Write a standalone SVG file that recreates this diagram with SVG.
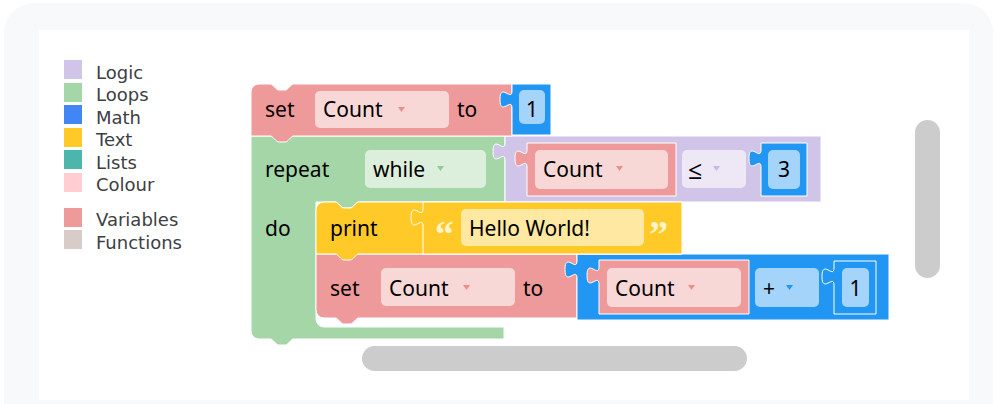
<svg xmlns="http://www.w3.org/2000/svg" width="996" height="404" viewBox="0 0 996 404">
<style>
.lg{font-family:"DejaVu Sans","Noto Sans",sans-serif;font-size:18px;fill:#3c4043}
.t{font-family:"Noto Sans","Open Sans",sans-serif;font-size:21px;fill:#000}
.q{font-family:"Liberation Serif","DejaVu Serif",serif;font-size:38px;font-weight:bold;fill:#fff3cc}
.blk{stroke:#fff;stroke-width:1}
.var{fill:#ef9a9a}
.loop{fill:#a5d6a7}
.logic{fill:#d1c4e9}
.math{fill:#2196f3}
.text{fill:#ffca28}
.fvar{fill:#f8d7d7}
.fmath{fill:#a5d4fa}
.arv{fill:#ec8e8e}
</style>
<rect x="0" y="0" width="996" height="404" fill="#fff"/>
<rect x="4" y="3" width="989" height="460" rx="30" fill="#f8f9fa"/>
<rect x="39" y="30" width="930" height="370" fill="#fff"/>

<g id="legend">
<rect x="64" y="60" width="18" height="19" fill="#d1c4e9"/><text class="lg" x="96" y="79">Logic</text>
<rect x="64" y="83" width="18" height="19" fill="#a5d6a7"/><text class="lg" x="96" y="101">Loops</text>
<rect x="64" y="105" width="18" height="19" fill="#4285f4"/><text class="lg" x="96" y="124">Math</text>
<rect x="64" y="128" width="18" height="19" fill="#ffca28"/><text class="lg" x="96" y="146">Text</text>
<rect x="64" y="150" width="18" height="19" fill="#4db6ac"/><text class="lg" x="96" y="169">Lists</text>
<rect x="64" y="173" width="18" height="19" fill="#ffcdd2"/><text class="lg" x="96" y="191">Colour</text>
<rect x="64" y="208" width="18" height="19" fill="#ef9a9a"/><text class="lg" x="96" y="226">Variables</text>
<rect x="64" y="230" width="18" height="19" fill="#d7ccc8"/><text class="lg" x="96" y="249">Functions</text>
</g>

<g id="connectors"></g>

<g id="repeat-while">
<path class="blk loop" d="M 251,136 H 505 V 202 H 359 c -1.5,0 -2.2,0.7 -3,1.5 l -3,3 c -0.8,0.8 -1.5,1.5 -3,1.5 h -6 c -1.5,0 -2.2,-0.7 -3,-1.5 l -3,-3 c -0.8,-0.8 -1.5,-1.5 -3,-1.5 H 316 V 319 a 8,8 0 0 0 8,8 H 504 V 339 H 294 c -1.5,0 -2.2,0.7 -3,1.5 l -3,3 c -0.8,0.8 -1.5,1.5 -3,1.5 h -6 c -1.5,0 -2.2,-0.7 -3,-1.5 l -3,-3 c -0.8,-0.8 -1.5,-1.5 -3,-1.5 H 259 a 8,8 0 0 1 -8,-8 Z"/>
<text class="t" x="265" y="177">repeat</text>
<rect x="365" y="150" width="121" height="38" rx="5" fill="#dcefdc"/>
<text class="t" x="373" y="177">while</text>
<polygon points="437,166 444,166 440.5,171" fill="#8fcc92"/>
<text class="t" x="265" y="236">do</text>
</g>

<g id="logic-compare">
<path class="blk logic" d="M 505,136 V 143 c 0,11.3 -12,-9 -12,8.5 s 12,-2.8 12,8.5 V 202 H 821 V 136 Z"/>
<rect x="682" y="150" width="64" height="38" rx="5" fill="#ede7f6"/>
<text class="t" x="688" y="179" style="font-size:25px">≤</text>
<polygon points="713,166 720,166 716.5,171" fill="#c7b8e8"/>
</g>

<g id="var-count-a">
<path class="blk var" d="M 527,143 V 150 c 0,11.3 -12,-9 -12,8.5 s 12,-2.8 12,8.5 V 196 H 676 V 143 Z"/>
<rect class="fvar" x="535" y="150" width="133" height="39" rx="5"/>
<text class="t" x="543" y="177">Count</text>
<polygon class="arv" points="616,166 623,166 619.5,171"/>
</g>

<g id="num-3">
<path class="blk math" d="M 761,143 V 150 c 0,11.3 -12,-9 -12,8.5 s 12,-2.8 12,8.5 V 196 H 807 V 143 Z"/>
<rect class="fmath" x="768" y="150" width="32" height="39" rx="5"/>
<text class="t" x="784" y="177" text-anchor="middle">3</text>
</g>

<g id="set-inner">
<path class="blk var" d="M 316,254 H 577 V 318 H 359 c -1.5,0 -2.2,0.7 -3,1.5 l -3,3 c -0.8,0.8 -1.5,1.5 -3,1.5 h -6 c -1.5,0 -2.2,-0.7 -3,-1.5 l -3,-3 c -0.8,-0.8 -1.5,-1.5 -3,-1.5 H 324 a 8,8 0 0 1 -8,-8 Z"/>
<text class="t" x="330" y="296">set</text>
<rect class="fvar" x="381" y="268" width="134" height="38" rx="5"/>
<text class="t" x="389" y="296">Count</text>
<polygon class="arv" points="463,285 470,285 466.5,290"/>
<text class="t" x="523" y="296">to</text>
</g>

<g id="math-add">
<path class="blk math" d="M 577,254 V 261 c 0,11.3 -12,-9 -12,8.5 s 12,-2.8 12,8.5 V 320 H 889 V 254 Z"/>
<rect class="fmath" x="755" y="268" width="64" height="39" rx="5"/>
<text class="t" x="763" y="296">+</text>
<polygon points="786,285 793,285 789.5,290" fill="#2196f3"/>
</g>

<g id="var-count-b">
<path class="blk var" d="M 599,260 V 267 c 0,11.3 -12,-9 -12,8.5 s 12,-2.8 12,8.5 V 314 H 749 V 260 Z"/>
<rect class="fvar" x="607" y="268" width="134" height="39" rx="5"/>
<text class="t" x="615" y="296">Count</text>
<polygon class="arv" points="688,285 695,285 691.5,290"/>
</g>

<g id="num-1b">
<path class="blk math" d="M 834,261 V 268 c 0,11.3 -12,-9 -12,8.5 s 12,-2.8 12,8.5 V 314 H 876 V 261 Z"/>
<rect class="fmath" x="842" y="268" width="27" height="39" rx="5"/>
<text class="t" x="855.5" y="296" text-anchor="middle">1</text>
</g>

<g id="print">
<path class="blk text" d="M 316,210 a 8,8 0 0 1 8,-8 H 335 c 1.5,0 2.2,0.7 3,1.5 l 3,3 c 0.8,0.8 1.5,1.5 3,1.5 h 6 c 1.5,0 2.2,-0.7 3,-1.5 l 3,-3 c 0.8,-0.8 1.5,-1.5 3,-1.5 H 682 V 254 H 359 c -1.5,0 -2.2,0.7 -3,1.5 l -3,3 c -0.8,0.8 -1.5,1.5 -3,1.5 h -6 c -1.5,0 -2.2,-0.7 -3,-1.5 l -3,-3 c -0.8,-0.8 -1.5,-1.5 -3,-1.5 H 316 Z"/>
<text class="t" x="330" y="236">print</text>
</g>

<g id="text-hello">
<path class="blk text" d="M 423,202 V 209 c 0,11.3 -12,-9 -12,8.5 s 12,-2.8 12,8.5 V 254 H 682 V 202 Z"/>
<text class="q" x="435" y="247">“</text>
<rect x="461" y="209" width="183" height="37" rx="5" fill="#ffe8a1"/>
<text class="t" x="469" y="236">Hello World!</text>
<text class="q" x="649" y="247">”</text>
</g>

<g id="set-top">
<path class="blk var" d="M 251,92 a 8,8 0 0 1 8,-8 H 270 c 1.5,0 2.2,0.7 3,1.5 l 3,3 c 0.8,0.8 1.5,1.5 3,1.5 h 6 c 1.5,0 2.2,-0.7 3,-1.5 l 3,-3 c 0.8,-0.8 1.5,-1.5 3,-1.5 H 512 V 136 H 294 c -1.5,0 -2.2,0.7 -3,1.5 l -3,3 c -0.8,0.8 -1.5,1.5 -3,1.5 h -6 c -1.5,0 -2.2,-0.7 -3,-1.5 l -3,-3 c -0.8,-0.8 -1.5,-1.5 -3,-1.5 H 251 Z"/>
<text class="t" x="265" y="117">set</text>
<rect class="fvar" x="315" y="91" width="134" height="37" rx="5"/>
<text class="t" x="323" y="117">Count</text>
<polygon class="arv" points="398,107 405,107 401.5,112"/>
<text class="t" x="457" y="117">to</text>
</g>

<g id="num-1a">
<path class="blk math" d="M 512,84 V 91 c 0,11.3 -12,-9 -12,8.5 s 12,-2.8 12,8.5 V 135 H 551 V 84 Z"/>
<rect class="fmath" x="519" y="90" width="26" height="34" rx="5"/>
<text class="t" x="532" y="117" text-anchor="middle">1</text>
</g>

<g id="scrollbars">
<rect x="915" y="120" width="25" height="158" rx="12.5" fill="#cccccc"/>
<rect x="362" y="346" width="385" height="25" rx="12.5" fill="#cccccc"/>
</g>
</svg>
